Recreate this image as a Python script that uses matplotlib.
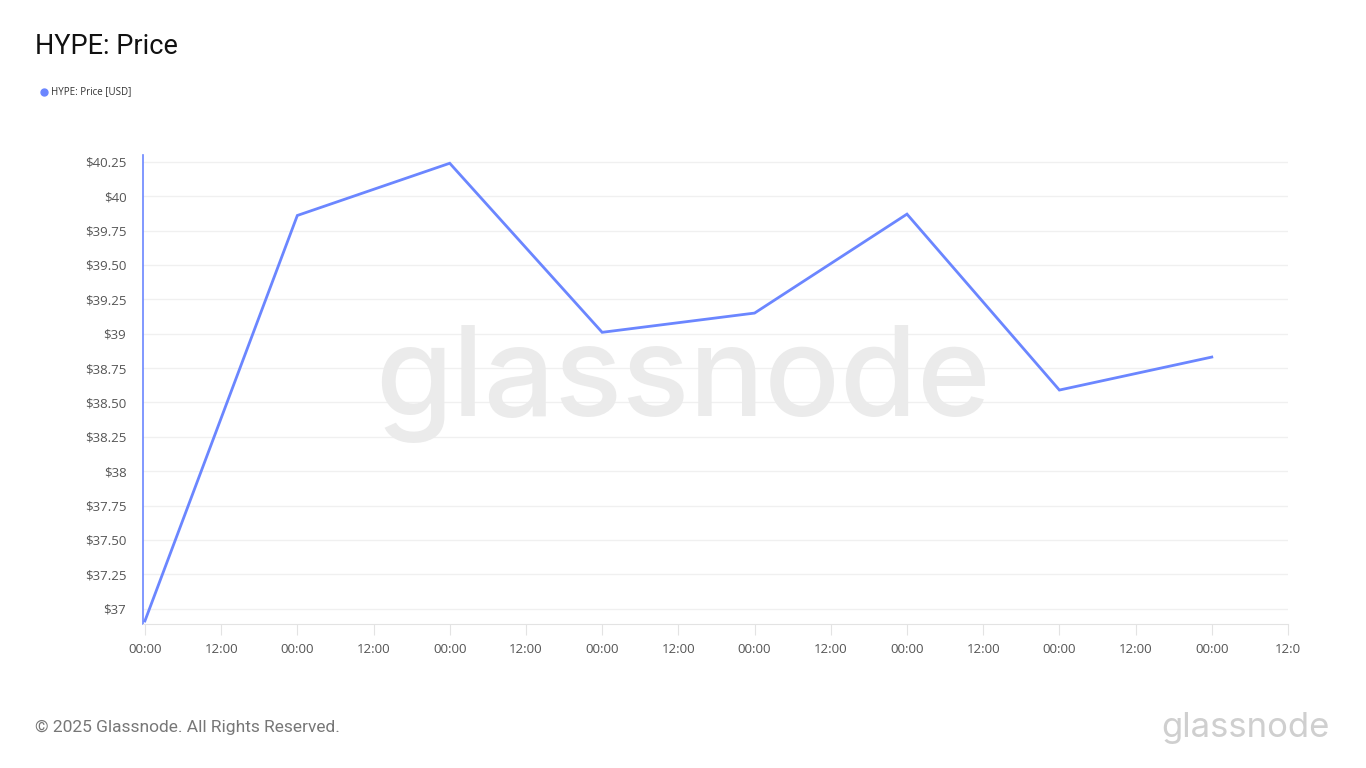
import matplotlib
matplotlib.use("Agg")
import matplotlib.pyplot as plt
from matplotlib.lines import Line2D

# Data (hours from start, price in USD)
hours = [0, 24, 48, 72, 96, 120, 144, 168]
price = [36.91, 39.86, 40.24, 39.01, 39.15, 39.87, 38.59, 38.83]

ytick_vals = [37, 37.25, 37.5, 37.75, 38, 38.25, 38.5, 38.75, 39, 39.25, 39.5, 39.75, 40, 40.25]
ytick_labels = ["$37", "$37.25", "$37.50", "$37.75", "$38", "$38.25", "$38.50", "$38.75",
                "$39", "$39.25", "$39.50", "$39.75", "$40", "$40.25"]
xtick_vals = list(range(0, 181, 12))
xtick_labels = ["00:00", "12:00"] * 7 + ["00:00", "12:0"]

line_color = "#6b86ff"
plt.rcParams["font.family"] = ["Open Sans", "DejaVu Sans"]

fig = plt.figure(figsize=(13.66, 7.68), dpi=100)
ax = fig.add_axes([143 / 1366, 1 - 624 / 768, (1288 - 143) / 1366, (624 - 155) / 768])

ax.plot(hours, price, color=line_color, lw=2, solid_joinstyle="miter", zorder=3)

ax.set_xlim(-0.3, 180)
ax.set_ylim(36.888, 40.30)
ax.set_yticks(ytick_vals)
ax.set_yticklabels(ytick_labels)
ax.set_xticks(xtick_vals)
ax.set_xticklabels(xtick_labels[:len(xtick_vals)])
ax.grid(axis="y", color="#f0f0f0", lw=1)
ax.set_axisbelow(True)

for s in ["top", "right"]:
    ax.spines[s].set_visible(False)
ax.spines["left"].set_color(line_color)
ax.spines["left"].set_linewidth(1.2)
ax.spines["bottom"].set_color("#e3e3e3")
ax.tick_params(axis="y", length=0, pad=12, labelsize=9.5, labelcolor="#555555")
ax.tick_params(axis="x", length=8, color="#e3e3e3", pad=6, labelsize=9.5, labelcolor="#555555")

# watermark
fig.text(0.5, 0.5, "glassnode", fontsize=90, color="#ebebeb", ha="center", va="center",
         family="Inter", fontweight="medium", zorder=0)

# title, legend, footer
fig.text(35 / 1366, 1 - 46 / 768, "HYPE: Price", fontsize=19.5, color="#111111", va="center",
         family="Roboto")
fig.add_artist(Line2D([44 / 1366], [1 - 92 / 768], marker="o", markersize=5,
                      color=line_color, transform=fig.transFigure))
fig.text(51 / 1366, 1 - 92 / 768, "HYPE: Price [USD]", fontsize=7, color="#333333", va="center")
fig.text(35 / 1366, 1 - 727 / 768, "\u00a9 2025 Glassnode. All Rights Reserved.", fontsize=12.5,
         color="#777777", va="center", family="Roboto")
fig.text(1330 / 1366, 1 - 728 / 768, "glassnode", fontsize=25, color="#cfcfcf", va="center",
         ha="right", family="Inter")

fig.savefig("out.png", dpi=100)
